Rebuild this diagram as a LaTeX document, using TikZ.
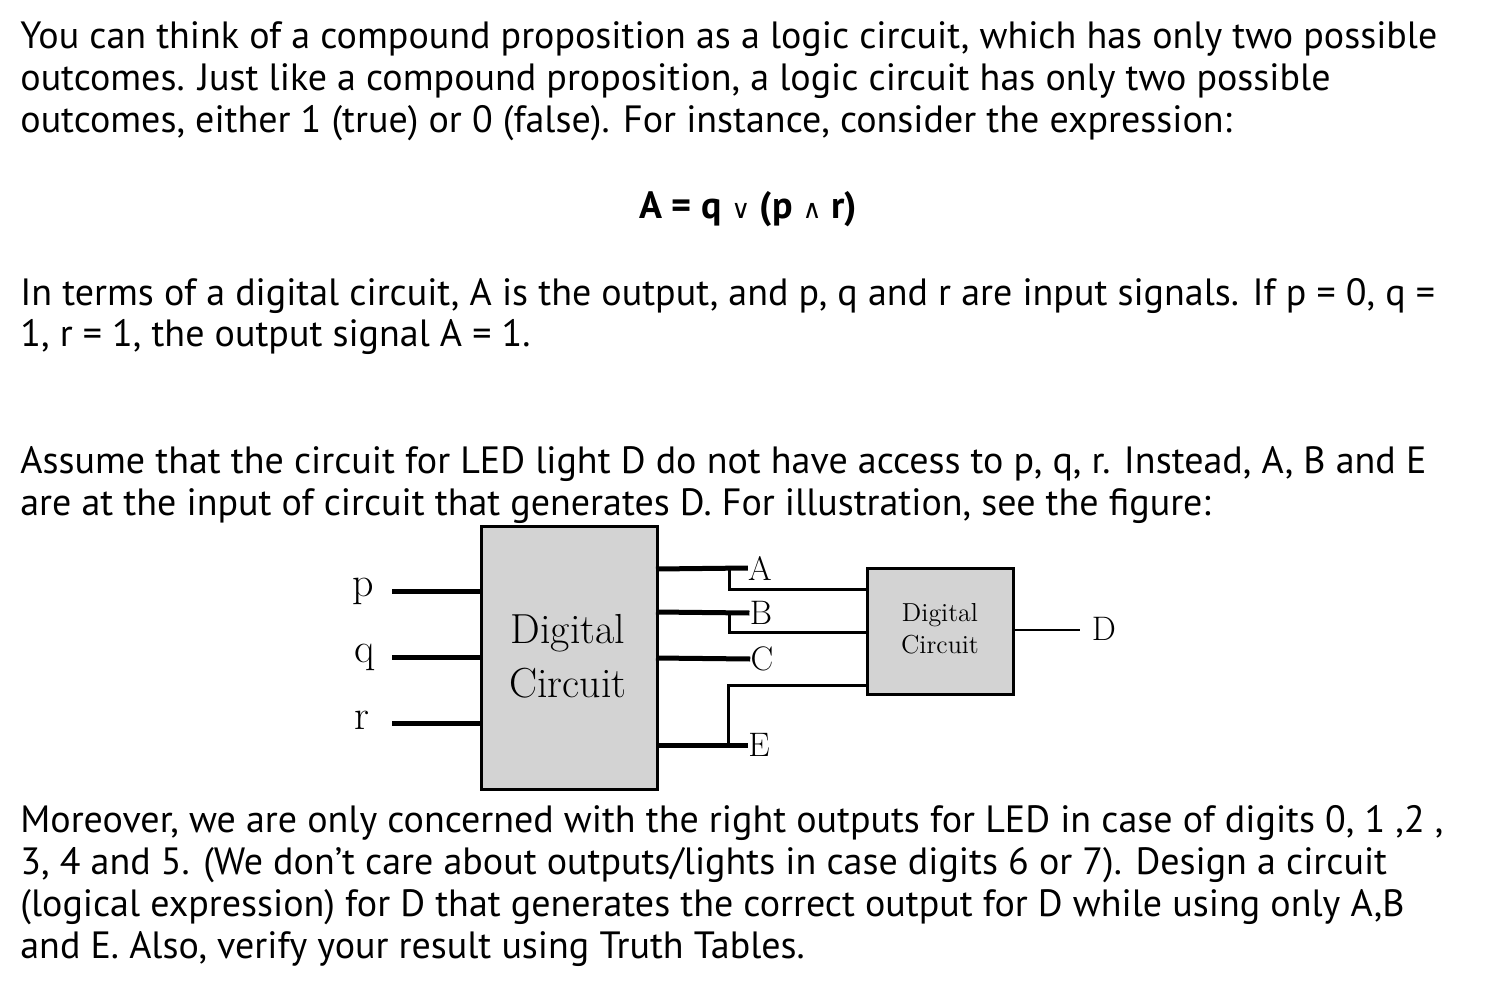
\documentclass[tikz,border=0pt]{standalone}
\usepackage{fontspec}
\setmainfont{PT Sans}
\newfontfamily\lmfont{Latin Modern Roman}
\newfontfamily\djfont{DejaVu Sans}
\begin{document}
\begin{tikzpicture}[x=0.5pt,y=-0.5pt,
  txt/.style={anchor=base west,inner sep=0,font=\fontsize{19}{22}\selectfont},
  lab/.style={inner sep=0,font=\lmfont\fontsize{17}{19}\selectfont},
  thick wire/.style={line width=2.5pt},
  wire/.style={line width=1.5pt},
  box/.style={draw,line width=1.5pt,fill={rgb,255:red,211;green,211;blue,211},inner sep=0}]
\useasboundingbox (0,0) rectangle (1496,996);
\node[txt] (l1) at (20,48) {You can think of a compound proposition as a logic circuit, which has only two possible};
\node[txt] (l2) at (20,90) {outcomes. Just like a compound proposition, a logic circuit has only two possible};
\node[txt] (l3) at (20,132) {outcomes, either 1 (true) or 0 (false). For instance, consider the expression:};
\node[txt,anchor=base] (f) at (748,218) {\textbf{A = q {\djfont\mdseries\fontsize{13}{14}\selectfont ∨} (p {\djfont\mdseries\fontsize{13}{14}\selectfont ∧} r)}};
\node[txt] (l4) at (20,305) {In terms of a digital circuit, A is the output, and p, q and r are input signals. If p = 0, q =};
\node[txt] (l5) at (20,346) {1, r = 1, the output signal A = 1.};
\node[txt] (l6) at (20,473) {Assume that the circuit for LED light D do not have access to p, q, r. Instead, A, B and E};
\node[txt] (l7) at (20,515) {are at the input of circuit that generates D. For illustration, see the figure:};
\node[txt] (l8) at (20,832) {Moreover, we are only concerned with the right outputs for LED in case of digits 0, 1 ,2 ,};
\node[txt] (l9) at (20,874) {3, 4 and 5. (We don’t care about outputs/lights in case digits 6 or 7). Design a circuit};
\node[txt] (l10) at (20,916) {(logical expression) for D that generates the correct output for D while using only A,B};
\node[txt] (l11) at (20,958) {and E. Also, verify your result using Truth Tables.};
% big box
\node[box,minimum width=88pt,minimum height=131.5pt,anchor=north west] (big) at (480,525) {};
\node[lab,font=\lmfont\fontsize{21}{25}\selectfont,align=center] (bt) at (568,656) {Digital\\[2pt]Circuit};
\node[box,minimum width=73pt,minimum height=63pt,anchor=north west] (small) at (866,567) {};
\node[lab,font=\lmfont\fontsize{13}{16}\selectfont,align=center] (st) at (940,629) {Digital\\Circuit};
% inputs
\node[lab,font=\lmfont\fontsize{21}{22}\selectfont] (p) at (363,591) {p};
\node[lab,font=\lmfont\fontsize{21}{22}\selectfont] (q) at (365,657) {q};
\node[lab,font=\lmfont\fontsize{21}{22}\selectfont] (r) at (362,720) {r};
\coordinate (pin) at (480,591);\coordinate (qin) at (480,657);\coordinate (rin) at (480,723);
\draw[thick wire] (392,591) -- (pin);
\draw[thick wire] (392,657) -- (qin);
\draw[thick wire] (392,723) -- (rin);
% outputs
\node[lab] (A) at (760,568) {A};
\node[lab] (B) at (761,613) {B};
\node[lab] (C) at (762,659) {C};
\node[lab] (E) at (759,745) {E};
\node[lab] (D) at (1104,629) {D};
\draw[thick wire] (656,569) -- (A.west);
\draw[thick wire] (656,612) -- (B.west);
\draw[thick wire] (656,658) -- (C.west);
\draw[thick wire] (656,745) -- (E.west);
\draw[wire] (729,569) |- (866,589);
\draw[wire] (729,612) |- (866,632);
\draw[wire] (728,745) |- (866,685);
\draw[line width=1pt] (1012,630) -- (1080,630);
\end{tikzpicture}
\end{document}
